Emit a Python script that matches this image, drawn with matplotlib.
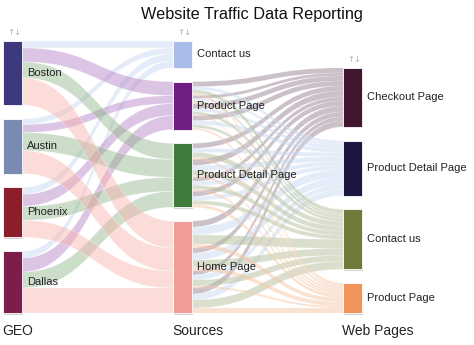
import matplotlib
matplotlib.use("Agg")
import matplotlib.pyplot as plt
from matplotlib.path import Path
from matplotlib.patches import PathPatch, Rectangle

plt.rcParams["font.family"] = ["Liberation Sans", "DejaVu Sans"]

# ---------------------------------------------------------------- data
geo = ["Boston", "Austin", "Phoenix", "Dallas"]
sources = ["Contact us", "Product Page", "Product Detail Page", "Home Page"]
pages = ["Checkout Page", "Product Detail Page", "Contact us", "Product Page"]

# visits GEO -> "Contact us" source (no further page)
geo_contact = [7, 6, 7, 7]
# visits GEO -> Source -> Web page, sources: Product Page, Product Detail Page, Home Page
# each row: Checkout, Product Detail, Contact us, Product Page
boston = [[5, 3, 4, 2], [5, 4, 5, 2], [6, 8, 9, 4]]
austin = [[3, 2, 2, 1], [6, 5, 5, 2], [5, 7, 7, 4]]
phoenix = [[5, 3, 3, 1], [4, 4, 4, 2], [4, 5, 6, 2]]
dallas = [[5, 4, 3, 2], [5, 4, 4, 3], [6, 6, 8, 5]]
paths = [boston, austin, phoenix, dallas]

geo_colors = ["#3c3a7c", "#7b8ab2", "#8a1f2b", "#7c1d4b"]
src_colors = ["#a9bbe8", "#6f1f84", "#3f7b3b", "#f09d98"]
page_colors = ["#40172f", "#1c1641", "#6f7a3b", "#f0955a"]
link_src_colors = ["#c6d5f2", "#b27cc4", "#8fb48b", "#f7b2ab"]
link_page_colors = ["#9a8294", "#c8dbf3", "#b6c19d", "#f7c6a2"]

# ---------------------------------------------------------------- layout (px)
W, H = 474, 345
BOTTOM, GAP, NODE_W = 313, 13.7, 19
COL_X = [3, 173, 343]

# GEO -> Source flows (aggregated over pages)
geo_src = [[geo_contact[g]] + [sum(paths[g][s]) for s in range(3)] for g in range(4)]
page_idx = range(4)

geo_tot = [sum(r) for r in geo_src]
src_tot = [sum(geo_src[g][s] for g in range(4)) for s in range(4)]
page_tot = [sum(paths[g][s][p] for g in range(4) for s in range(3)) for p in page_idx]


def stack(totals):
    top = BOTTOM - sum(totals) - GAP * (len(totals) - 1)
    ys = []
    for t in totals:
        ys.append(top)
        top += t + GAP
    return ys


geo_y, src_y, page_y = stack(geo_tot), stack(src_tot), stack(page_tot)


def band(ax, x0, y0, x1, y1, h, color, alpha, lw):
    xm = (x0 + x1) / 2
    verts = [(x0, y0), (xm, y0), (xm, y1), (x1, y1),
             (x1, y1 + h), (xm, y1 + h), (xm, y0 + h), (x0, y0 + h), (x0, y0)]
    codes = [Path.MOVETO, Path.CURVE4, Path.CURVE4, Path.CURVE4,
             Path.LINETO, Path.CURVE4, Path.CURVE4, Path.CURVE4, Path.CLOSEPOLY]
    ax.add_patch(PathPatch(Path(verts, codes), fc=color, ec="white", lw=lw,
                           alpha=alpha, zorder=1))


fig = plt.figure(figsize=(W / 100, H / 100), dpi=100)
ax = fig.add_axes([0, 0, 1, 1])
ax.set_xlim(0, W)
ax.set_ylim(H, 0)
ax.axis("off")

# GEO -> Source: outgoing ordered by source, incoming ordered by geo
out_off = list(geo_y)
start = {}
for g in range(4):
    for s in range(4):
        start[g, s] = out_off[g]
        out_off[g] += geo_src[g][s]
in_off = list(src_y)
for s in range(4):
    for g in range(4):
        band(ax, COL_X[0] + NODE_W, start[g, s], COL_X[1], in_off[s],
             geo_src[g][s], link_src_colors[s], 0.45, 0.5)
        in_off[s] += geo_src[g][s]

# Source -> Page: outgoing ordered by geo then page, incoming by source then geo
src_off = list(src_y)
s_start = {}
for s in range(1, 4):
    for g in range(4):
        for p in page_idx:
            s_start[g, s, p] = src_off[s]
            src_off[s] += paths[g][s - 1][p]
page_off = list(page_y)
for p in page_idx:
    for s in range(1, 4):
        for g in range(4):
            v = paths[g][s - 1][p]
            band(ax, COL_X[1] + NODE_W, s_start[g, s, p], COL_X[2], page_off[p],
                 v, link_page_colors[p], 0.5, 0.15)
            page_off[p] += v


def nodes(x, ys, tots, colors, labels):
    for y, t, c, lab in zip(ys, tots, colors, labels):
        ax.add_patch(Rectangle((x + 1.5, y + 1.5), NODE_W, t, fc="#d4d4d4",
                               ec="none", zorder=2))
        ax.add_patch(Rectangle((x, y), NODE_W, t, fc=c, ec="white", lw=0.6,
                               zorder=3))
        ax.text(x + NODE_W + 5, y + t / 2, lab, ha="left", va="center",
                fontsize=8, color="#222222", zorder=4)
    ax.text(x + 4, ys[0] - 8, "↑↓", fontsize=6, color="#b0b0b0",
            ha="left", va="center", family="DejaVu Sans")


nodes(COL_X[0], geo_y, geo_tot, geo_colors, geo)
nodes(COL_X[1], src_y, src_tot, src_colors, sources)
nodes(COL_X[2], page_y, page_tot, page_colors, pages)

ax.text(252, 15, "Website Traffic Data Reporting", ha="center", va="center",
        fontsize=11.7, color="#111111")
for x, lab in zip(COL_X, ["GEO", "Sources", "Web Pages"]):
    ax.text(x - 1, 331, lab, ha="left", va="center", fontsize=10, color="#222222")

fig.savefig("out.png", dpi=100)
